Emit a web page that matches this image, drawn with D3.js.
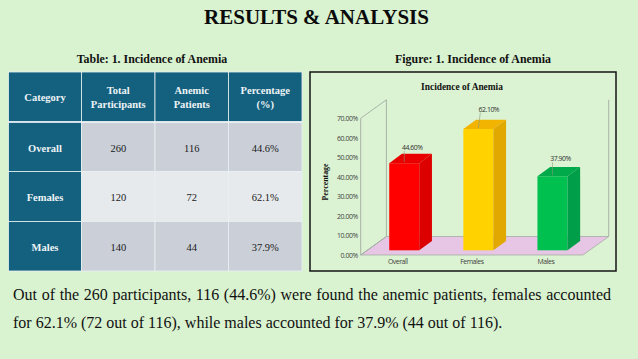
<!DOCTYPE html>
<html>
<head>
<meta charset="utf-8">
<script src="https://cdn.jsdelivr.net/npm/d3@7"></script>
<style>
html, body { margin: 0; padding: 0; background: #d9f2d0; }
svg { display: block; }
.serif { font-family: "Liberation Serif", serif; }
.sans { font-family: "Open Sans", sans-serif; letter-spacing: -0.45px; }
</style>
</head>
<body>
<script>
// table data
var tableHeader = [["Category"], ["Total", "Participants"], ["Anemic", "Patients"], ["Percentage", "(%)"]];
var categories = ["Overall", "Females", "Males"];
var totals = [260, 120, 140];
var anemic = [116, 72, 44];
var percentText = ["44.6%", "62.1%", "37.9%"];

// chart data
var percentages = [44.6, 62.1, 37.9];
var yTicks = [0, 10, 20, 30, 40, 50, 60, 70];

var bodyLines = [
	"Out of the 260 participants, 116 (44.6%) were found the anemic patients, females accounted",
	"for 62.1% (72 out of 116), while males accounted for 37.9% (44 out of 116)."
];

var svg = d3.select("body").append("svg")
	.attr("width", 638)
	.attr("height", 359);

svg.append("text").attr("class", "serif")
	.attr("x", 316.5).attr("y", 24)
	.attr("text-anchor", "middle")
	.attr("font-size", 21).attr("font-weight", "bold").attr("fill", "#0b0b0b")
	.text("RESULTS & ANALYSIS");

svg.append("text").attr("class", "serif")
	.attr("x", 152).attr("y", 63)
	.attr("text-anchor", "middle")
	.attr("font-size", 11.9).attr("font-weight", "bold").attr("fill", "#111")
	.text("Table: 1. Incidence of Anemia");

svg.append("text").attr("class", "serif")
	.attr("x", 473).attr("y", 63)
	.attr("text-anchor", "middle")
	.attr("font-size", 11.9).attr("font-weight", "bold").attr("fill", "#111")
	.text("Figure: 1. Incidence of Anemia");

/* ---- table ---- */
var colX = [8.5, 81.5, 155, 228.5, 302];
var rowY = [72, 122, 171.5, 221.5, 271];
var headBlue = "#14607f";
var table = svg.append("g");

function cell(col, row, fill, lines, color, bold) {
	table.append("rect")
		.attr("x", colX[col]).attr("y", rowY[row])
		.attr("width", colX[col + 1] - colX[col])
		.attr("height", rowY[row + 1] - rowY[row])
		.attr("fill", fill)
		.attr("stroke", "#e8f0f2").attr("stroke-width", 0.8);
	var cx = (colX[col] + colX[col + 1]) / 2;
	var cy = (rowY[row] + rowY[row + 1]) / 2;
	var nudge = row == 0 ? 3.8 : 4.8;
	lines.forEach((t, i)=>{
		table.append("text").attr("class", "serif")
			.attr("x", cx)
			.attr("y", cy + nudge + (i - (lines.length - 1) / 2) * 13.5)
			.attr("text-anchor", "middle")
			.attr("font-size", 10.5)
			.attr("font-weight", bold ? "bold" : "normal")
			.attr("fill", color)
			.text(t);
	});
}

tableHeader.forEach((lines, c)=>{
	cell(c, 0, headBlue, lines, "#eef4f6", true);
});
categories.forEach((name, r)=>{
	var fill = r == 1 ? "#e7eaed" : "#cbd0d8";
	cell(0, r + 1, headBlue, [name], "#eef4f6", true);
	cell(1, r + 1, fill, [String(totals[r])], "#1a1a1a", false);
	cell(2, r + 1, fill, [String(anemic[r])], "#1a1a1a", false);
	cell(3, r + 1, fill, [percentText[r]], "#1a1a1a", false);
});
// header bottom line is a bit thicker
table.append("line")
	.attr("x1", colX[0]).attr("x2", colX[4])
	.attr("y1", rowY[1]).attr("y2", rowY[1])
	.attr("stroke", "#eef4f6").attr("stroke-width", 1.6);

/* ---- chart ---- */
svg.append("rect")
	.attr("x", 310).attr("y", 72)
	.attr("width", 306).attr("height", 199)
	.attr("fill", "#dcf3d3")
	.attr("stroke", "#141414").attr("stroke-width", 1.5);

svg.append("text").attr("class", "serif")
	.attr("x", 462).attr("y", 90)
	.attr("text-anchor", "middle")
	.attr("font-size", 9.4).attr("font-weight", "bold").attr("fill", "#111")
	.text("Incidence of Anemia");

svg.append("text").attr("class", "serif")
	.attr("transform", "translate(328,182) rotate(-90)")
	.attr("text-anchor", "middle")
	.attr("font-size", 7.9).attr("font-weight", "bold").attr("fill", "#111")
	.text("Percentage");

var x = d3.scaleBand()
	.domain(categories)
	.range([360.7, 583])
	.paddingInner(0.595)
	.paddingOuter(0.2975);

var y = d3.scaleLinear()
	.domain([0, 70])
	.range([255, 118.3]);

var color = d3.scaleOrdinal().domain(categories).range(["#ff0000", "#ffd200", "#00c050"]);
var topColor = d3.scaleOrdinal().domain(categories).range(["#e80000", "#f2b400", "#00a94a"]);
var sideColor = d3.scaleOrdinal().domain(categories).range(["#dc0000", "#e0a800", "#009e48"]);

// 3d projection offsets
var backDx = 25.7, backDy = 18.5;   // wall depth
var barDx = 12.7, barDy = 9.4;      // bar depth
var barShiftX = 6.5, barShiftY = 4.7; // bars sit in the middle of the floor

var x0 = x.range()[0], x1 = x.range()[1];
var y0 = y(0), yTop = y(70);
var wallColor = "#a3aca3";

var walls = svg.append("g");
// floor
walls.append("path")
	.attr("d", d3.line()([[x0, y0], [x1, y0], [x1 + backDx, y0 - backDy], [x0 + backDx, y0 - backDy]]) + "Z")
	.attr("fill", "#e6c6e4").attr("stroke", wallColor).attr("stroke-width", 0.8);
// left wall
walls.append("path")
	.attr("d", d3.line()([[x0, y0], [x0, yTop], [x0 + backDx, yTop - backDy], [x0 + backDx, y0 - backDy]]) + "Z")
	.attr("fill", "none").attr("stroke", wallColor).attr("stroke-width", 0.9);
// right back edge
walls.append("line")
	.attr("x1", x1 + backDx).attr("x2", x1 + backDx)
	.attr("y1", yTop - backDy).attr("y2", y0 - backDy)
	.attr("stroke", wallColor).attr("stroke-width", 0.9);

var barTop = (d)=>{ return y(d) - barShiftY; };
var barData = categories.map((c, i)=>{ return {name: c, value: percentages[i]}; });
var bars = svg.selectAll("g.bar").data(barData).enter().append("g").attr("class", "bar");

bars.append("rect")
	.attr("x", (d)=>{ return x(d.name) + barShiftX; })
	.attr("y", (d)=>{ return barTop(d.value); })
	.attr("width", x.bandwidth())
	.attr("height", (d)=>{ return y0 - y(d.value); })
	.attr("fill", (d)=>{ return color(d.name); });

bars.append("path")
	.attr("d", (d)=>{
		var l = x(d.name) + barShiftX, r = l + x.bandwidth(), t = barTop(d.value);
		return d3.line()([[l, t], [r, t], [r + barDx, t - barDy], [l + barDx, t - barDy]]) + "Z";
	})
	.attr("fill", (d)=>{ return topColor(d.name); });

bars.append("path")
	.attr("d", (d)=>{
		var r = x(d.name) + barShiftX + x.bandwidth(), t = barTop(d.value), b = y0 - barShiftY;
		return d3.line()([[r, t], [r + barDx, t - barDy], [r + barDx, b - barDy], [r, b]]) + "Z";
	})
	.attr("fill", (d)=>{ return sideColor(d.name); });

// leader lines + data labels
var labelDx = [8, 10.5, 8];
var labelDy = [-16, -20, -17.5];
var leaderDx = [0, 2, 0];
bars.append("line")
	.attr("x1", (d)=>{ return x(d.name) + barShiftX + x.bandwidth() / 2; })
	.attr("x2", (d, i)=>{ return x(d.name) + barShiftX + x.bandwidth() / 2 + leaderDx[i]; })
	.attr("y1", (d)=>{ return barTop(d.value) - 1; })
	.attr("y2", (d, i)=>{ return barTop(d.value) + labelDy[i] + 3.5; })
	.attr("stroke", "#8a9a7a").attr("stroke-width", 0.6);

bars.append("text").attr("class", "sans")
	.attr("x", (d, i)=>{ return x(d.name) + barShiftX + x.bandwidth() / 2 + labelDx[i]; })
	.attr("y", (d, i)=>{ return barTop(d.value) + labelDy[i] + 2.5; })
	.attr("text-anchor", "middle")
	.attr("font-size", 6.9).attr("fill", "#303030")
	.text((d)=>{ return d.value.toFixed(2) + "%"; });

// axes
var yAxis = d3.axisLeft(y)
	.tickValues(yTicks)
	.tickSize(0)
	.tickPadding(3)
	.tickFormat((d)=>{ return d.toFixed(2) + "%"; });
var gy = svg.append("g").attr("transform", "translate(" + x0 + ",0)").call(yAxis);
gy.select(".domain").remove();
gy.selectAll("text").attr("class", "sans").attr("font-size", 6.9).attr("fill", "#404040");

var xAxis = d3.axisBottom(x).tickSize(0).tickPadding(4);
var gx = svg.append("g").attr("transform", "translate(0," + y0 + ")").call(xAxis);
gx.select(".domain").remove();
gx.selectAll("text").attr("class", "sans").attr("font-size", 6.9).attr("fill", "#404040");

/* ---- paragraph under the chart, first line is justified ---- */
var lineBase = [299.5, 328];
bodyLines.forEach((t, i)=>{
	var el = svg.append("text").attr("class", "serif")
		.attr("x", 13).attr("y", lineBase[i])
		.attr("font-size", 16).attr("fill", "#111")
		.text(t);
	if (i == 0) {
		var gaps = t.split(" ").length - 1;
		var extra = (598 - el.node().getComputedTextLength()) / gaps;
		el.attr("word-spacing", extra);
	}
});
</script>
</body>
</html>
